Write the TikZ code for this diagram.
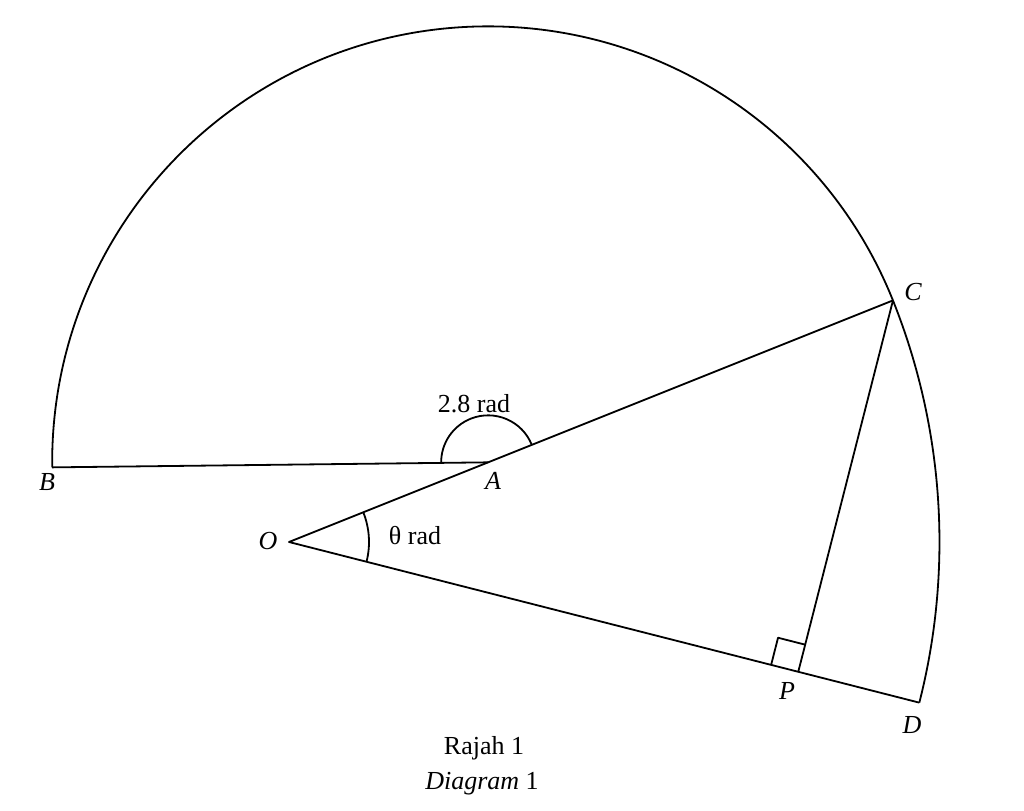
\documentclass[tikz,border=0pt]{standalone}
\usepackage{fontspec}
\setmainfont{Liberation Serif}
\usetikzlibrary{calc}
\begin{document}
\begin{tikzpicture}[x=0.5pt,y=0.5pt,
  edge/.style={line width=0.9pt, line join=round},
  lbl/.style={font=\fontsize{13}{15}\selectfont\itshape, inner sep=0pt},
  txt/.style={font=\fontsize{13}{15}\selectfont, inner sep=0pt}]
\useasboundingbox (0,0) rectangle (1024,810);
% points
\coordinate (O) at (289,268);
\coordinate (A) at ($(O)+(21.8:214.5)$);
\coordinate (B) at ($(A)+(180.66:436)$);
\coordinate (C) at ($(A)+(21.8:436)$);
\coordinate (D) at ($(O)+(-14.3:650.5)$);
\coordinate (P) at ($(O)!(C)!(D)$);
\coordinate (PO) at ($(P)!14pt!(O)$);
\coordinate (PC) at ($(P)!14pt!(C)$);
\coordinate (PX) at ($(PO)+(PC)-(P)$);
% main figure
\draw[edge] (B) -- (A);
\draw[edge] (B) arc[start angle=180.66, end angle=21.8, radius=436];
\draw[edge] (C) arc[start angle=21.8, end angle=-14.3, radius=650.5];
\draw[edge] (D) -- (O) -- (C);
\draw[edge] (C) -- (P);
% right angle
\draw[edge] (PO) -- (PX) -- (PC);
% angle marks
\draw[edge] ($(A)+(21.8:47)$) arc[start angle=21.8, end angle=180.66, radius=47];
\draw[edge] ($(O)+(-14.3:80)$) arc[start angle=-14.3, end angle=21.8, radius=80];
% labels
\node[lbl] (lB) at (47,328) {B};
\node[lbl] (lA) at (493,329) {A};
\node[lbl] (lC) at (913,518) {C};
\node[lbl] (lO) at (268,269) {O};
\node[lbl] (lP) at (787,119) {P};
\node[lbl] (lD) at (912,85) {D};
\node[txt] (ang1) at (474,406) {2.8 rad};
\node[txt] (ang2) at (415,274) {θ rad};
\node[txt] (cap1) at (484,62) {Rajah 1};
\node[txt] (cap2) at (482,26) {\itshape Diagram\/ \upshape 1};
\end{tikzpicture}
\end{document}
